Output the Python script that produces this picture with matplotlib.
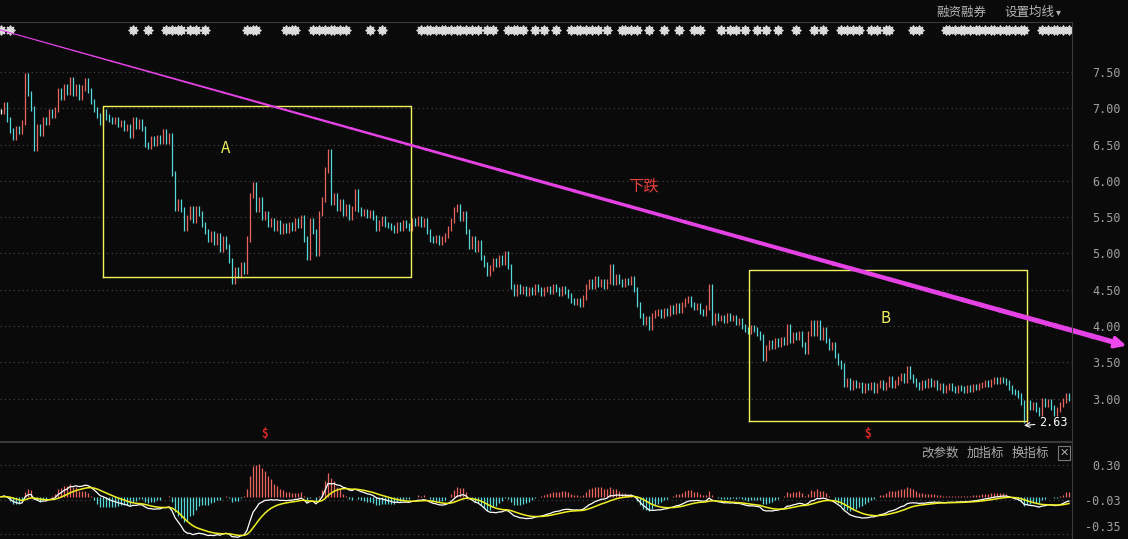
import matplotlib
matplotlib.use("Agg")
import matplotlib.pyplot as plt
from matplotlib.collections import LineCollection
import numpy as np

plt.rcParams['font.family'] = ['Noto Sans CJK SC', 'DejaVu Sans']

# 收盘价 (每根K线一个值, 从左到右)
closes = [
    6.95, 7.05, 6.85, 6.70, 6.60, 6.72, 6.68, 6.80, 7.45, 7.20, 7.00, 6.45, 6.75, 6.65, 6.85, 6.80, 6.95, 6.90, 6.98, 7.25,
    7.15, 7.30, 7.22, 7.40, 7.20, 7.30, 7.15, 7.28, 7.38, 7.25, 7.10, 6.98, 6.90, 6.80, 6.95, 6.88, 6.85, 6.82, 6.84, 6.78,
    6.80, 6.72, 6.75, 6.62, 6.85, 6.75, 6.82, 6.72, 6.50, 6.48, 6.58, 6.52, 6.60, 6.55, 6.68, 6.55, 6.62, 6.10, 5.62, 5.72,
    5.60, 5.35, 5.50, 5.62, 5.45, 5.62, 5.55, 5.40, 5.30, 5.20, 5.28, 5.15, 5.25, 5.05, 5.20, 5.10, 4.90, 4.62, 4.78, 4.70,
    4.85, 4.75, 5.20, 5.80, 5.95, 5.60, 5.75, 5.50, 5.55, 5.40, 5.45, 5.35, 5.42, 5.30, 5.38, 5.32, 5.40, 5.35, 5.45, 5.38,
    5.50, 5.20, 4.95, 5.45, 5.30, 5.00, 5.55, 5.75, 6.15, 6.40, 5.70, 5.80, 5.62, 5.72, 5.55, 5.65, 5.50, 5.62, 5.85, 5.60,
    5.55, 5.58, 5.52, 5.56, 5.50, 5.35, 5.42, 5.48, 5.40, 5.38, 5.36, 5.32, 5.40, 5.35, 5.42, 5.38, 5.35, 5.45, 5.42, 5.48,
    5.40, 5.45, 5.30, 5.20, 5.18, 5.22, 5.15, 5.20, 5.25, 5.35, 5.45, 5.60, 5.65, 5.48, 5.55, 5.30, 5.10, 5.20, 5.05, 5.15,
    4.95, 4.85, 4.72, 4.80, 4.90, 4.85, 4.95, 4.88, 5.00, 4.82, 4.55, 4.45, 4.55, 4.48, 4.52, 4.45, 4.50, 4.47, 4.55, 4.50,
    4.45, 4.50, 4.52, 4.48, 4.55, 4.50, 4.45, 4.52, 4.48, 4.42, 4.35, 4.32, 4.35, 4.30, 4.40, 4.55, 4.62, 4.55, 4.65, 4.58,
    4.62, 4.55, 4.62, 4.82, 4.60, 4.68, 4.62, 4.58, 4.63, 4.60, 4.65, 4.50, 4.30, 4.15, 4.05, 4.10, 3.98, 4.15, 4.18, 4.20,
    4.15, 4.22, 4.18, 4.25, 4.20, 4.28, 4.22, 4.30, 4.35, 4.38, 4.30, 4.25, 4.28, 4.20, 4.18, 4.25, 4.55, 4.05, 4.15, 4.10,
    4.12, 4.08, 4.15, 4.10, 4.12, 4.05, 4.08, 4.00, 3.95, 3.92, 3.98, 3.95, 3.90, 3.85, 3.55, 3.70, 3.78, 3.72, 3.80, 3.75,
    3.82, 3.78, 4.00, 3.80, 3.88, 3.85, 3.90, 3.75, 3.65, 3.90, 4.05, 3.90, 4.05, 3.85, 3.95, 3.80, 3.70, 3.75, 3.60, 3.50,
    3.45, 3.20, 3.25, 3.15, 3.22, 3.18, 3.20, 3.12, 3.18, 3.15, 3.20, 3.12, 3.18, 3.22, 3.15, 3.20, 3.28, 3.18, 3.22, 3.28,
    3.32, 3.25, 3.42, 3.30, 3.25, 3.20, 3.15, 3.22, 3.18, 3.25, 3.20, 3.22, 3.15, 3.18, 3.12, 3.15, 3.18, 3.14, 3.12, 3.16,
    3.14, 3.12, 3.15, 3.13, 3.17, 3.15, 3.18, 3.20, 3.22, 3.20, 3.24, 3.26, 3.24, 3.26, 3.25, 3.22, 3.15, 3.10, 3.08, 3.05,
    2.95, 2.70, 2.95, 2.88, 2.92, 2.85, 2.80, 2.98, 2.92, 2.96, 2.88, 2.80, 2.85, 2.92, 2.98, 3.05, 3.00,
]
low_label = "2.63"
low_index = 341

# 信息地雷位置 (K线序号)
event_idx = [0, 3, 44, 49, 55, 57, 59, 60, 63, 65, 68, 82, 84, 85, 95, 97, 98, 104, 106, 108, 110, 111, 113, 115,
             123, 127, 140, 142, 143, 145, 147, 148, 150, 152, 153, 155, 157, 159, 162, 164, 169, 171, 172, 174,
             178, 181, 185, 190, 192, 193, 195, 197, 199, 202, 207, 208, 210, 212, 216, 221, 226, 231, 233, 240,
             243, 245, 248, 252, 255, 259, 265, 271, 274, 280, 282, 284, 286, 290, 292, 295, 296, 304, 306, 315,
             316, 318, 320, 321, 323, 325, 326, 328, 330, 331, 333, 335, 336, 338, 340, 341, 347, 349, 351, 352,
             354, 356]
dollar_idx = [88, 289]

price_ticks = [3.0, 3.5, 4.0, 4.5, 5.0, 5.5, 6.0, 6.5, 7.0, 7.5]
macd_ticks = [0.30, -0.03, -0.35]

# 方框 A / B: (起始序号, 结束序号, 下沿, 上沿)
box_a = (34, 136.7, 4.676, 7.032)
box_b = (249.3, 342, 2.693, 4.773)
trend = ((-0.33, 8.08), (376, 3.72))

BG = '#0a0a0a'
UP = '#e8645c'
DN = '#56d8d8'
GRID = '#4a4a4a'
TXT = '#a0a0a0'

c = np.array(closes)
n = len(c)
idx = np.arange(n)
o = np.concatenate([[c[0]], c[:-1]])


def ema(v, span):
    out = np.empty_like(v)
    e = v[0]
    for i, x in enumerate(v):
        e = (2 * x + (span - 1) * e) / (span + 1)
        out[i] = e
    return out


dif = ema(c, 12) - ema(c, 26)
dea = ema(dif, 9)
hist = 2 * (dif - dea)

fig = plt.figure(figsize=(11.28, 5.39), dpi=100, facecolor=BG)
ax = fig.add_axes([0, 1 - 441 / 539, 1072 / 1128, 419 / 539], facecolor=BG)
ax2 = fig.add_axes([0, 0, 1072 / 1128, 97 / 539], facecolor=BG)

# K线
pad = 0.035
lo = np.minimum(o, c) - pad
hi = np.maximum(o, c) + pad
cols = [UP if c[i] > o[i] else (DN if c[i] < o[i] else 'white') for i in range(n)]
ax.vlines(idx, lo, hi, colors=cols, linewidth=0.9)

ax.set_xlim(-0.33, 357)
ax.set_ylim(2.417, 8.189)
for t in price_ticks:
    ax.axhline(t, color=GRID, lw=0.8, ls=(0, (1, 3)), zorder=0)
ax.yaxis.tick_right()
ax.set_yticks(price_ticks)
ax.set_yticklabels(['%.2f' % t for t in price_ticks], family='DejaVu Sans Mono', color=TXT, fontsize=8.5, ha='right')
ax.tick_params(axis='y', length=0, pad=35)
ax.set_xticks([])
ax.spines['left'].set_visible(False)
for s in ['top', 'bottom', 'right']:
    ax.spines[s].set_color('#3a3a3a')

# 方框
for x0, x1, y0, y1 in [box_a, box_b]:
    ax.plot([x0, x1, x1, x0, x0], [y0, y0, y1, y1, y0], color='#f2f25a', lw=1.0)
ax.text(75, 6.453, 'A', color='#f2f25a', fontsize=11, ha='center', va='center')
ax.text(295, 4.098, 'B', color='#f2f25a', fontsize=11, ha='center', va='center')
ax.text(214, 5.93, '下跌', color='#e8403a', fontsize=11, ha='center', va='center')

# 趋势线 (越往右越粗)
(tx0, ty0), (tx1, ty1) = trend
k = 60
xs = np.linspace(tx0, tx1 - 6, k + 1)
ys = ty0 + (xs - tx0) * (ty1 - ty0) / (tx1 - tx0)
segs = [[(xs[i], ys[i]), (xs[i + 1], ys[i + 1])] for i in range(k)]
lc = LineCollection(segs, linewidths=np.linspace(0.8, 3.8, k), colors='#e442e4', clip_on=False, capstyle='round')
ax.add_collection(lc)
ax.annotate('', xy=(tx1, ty1), xytext=(tx1 - 8, ty1 + 0.09),
            arrowprops=dict(arrowstyle='-|>', mutation_scale=17, color='#ee48ee', lw=2.5),
            annotation_clip=False)

# 信息地雷
ax.scatter(event_idx, [8.08] * len(event_idx), marker=(8, 2, 0), s=34, color='#dcdcdc', linewidths=1.3)
for d in dollar_idx:
    ax.text(d, 2.514, '$', color='#e02828', fontsize=8, fontweight='bold', ha='center', va='center')

# 最低价标注
ax.annotate(low_label, xy=(low_index, 2.63), xytext=(low_index + 5, 2.67),
            color='white', fontsize=8.5, family='DejaVu Sans Mono', va='center',
            arrowprops=dict(arrowstyle='->', color='white', lw=0.8, shrinkA=1, shrinkB=0))

# 顶部工具栏
fig.text(961 / 1128, 1 - 12 / 539, '融资融券', color='#b4b4b4', fontsize=9, ha='center', va='center')
fig.text(1029 / 1128, 1 - 12 / 539, '设置均线', color='#b4b4b4', fontsize=9, ha='center', va='center')
fig.text(1058 / 1128, 1 - 12 / 539, '▾', color='#b4b4b4', fontsize=7, ha='center', va='center', family='DejaVu Sans')

# MACD
hcols = [UP if h > 0 else DN for h in hist]
ax2.vlines(idx, 0, hist, colors=hcols, linewidth=0.9)
ax2.plot(idx, dif, color='white', lw=0.9)
ax2.plot(idx, dea, color='#f0f020', lw=1.1)
ax2.set_xlim(-0.33, 357)
ax2.set_ylim(-0.3977, 0.5169)
for t in macd_ticks:
    ax2.axhline(t, color=GRID, lw=0.8, ls=(0, (1, 3)), zorder=0)
ax2.yaxis.tick_right()
ax2.set_yticks(macd_ticks)
labs = ax2.set_yticklabels(['%.2f' % t for t in macd_ticks], family='DejaVu Sans Mono', color=TXT, fontsize=8.5, ha='right')
labs[-1].set_verticalalignment('bottom')
ax2.tick_params(axis='y', length=0, pad=35)
ax2.set_xticks([])
ax2.spines['left'].set_visible(False)
for s in ['top', 'bottom', 'right']:
    ax2.spines[s].set_color('#3a3a3a')

for lbl, xp in [('改参数', 940), ('加指标', 985), ('换指标', 1030)]:
    fig.text(xp / 1128, 1 - 453 / 539, lbl, color='#a8a8a8', fontsize=9, ha='center', va='center')
fig.text(1064 / 1128, 1 - 453 / 539, '✕', color='#a8a8a8', fontsize=8, ha='center', va='center',
         family='DejaVu Sans',
         bbox=dict(boxstyle='square,pad=0.15', fc='none', ec='#7a7a7a', lw=0.8))

fig.savefig('out.png', dpi=100, facecolor=BG)
